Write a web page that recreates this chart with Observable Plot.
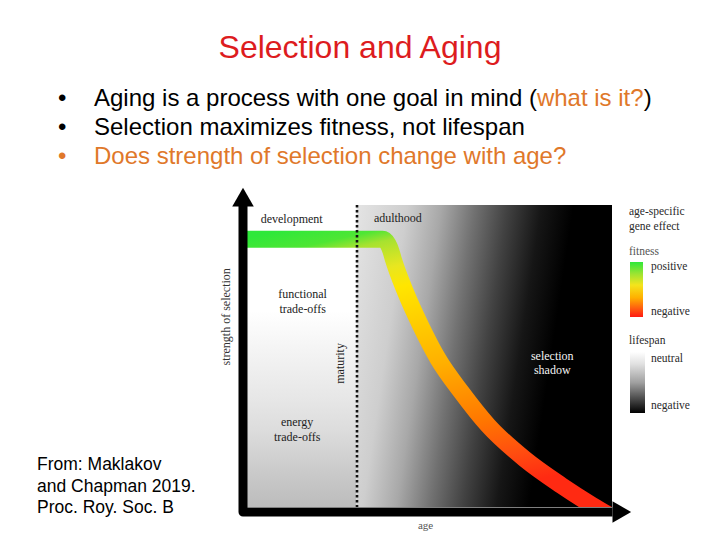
<!DOCTYPE html>
<html>
<head>
<meta charset="utf-8">
<script src="https://cdn.jsdelivr.net/npm/d3@7"></script>
<script src="https://cdn.jsdelivr.net/npm/@observablehq/plot@0.6"></script>
<style>
  body { margin: 0; width: 720px; height: 540px; position: relative; background: #fff; overflow: hidden; font-family: "Liberation Sans", Arial, sans-serif; }
  .abs { position: absolute; white-space: nowrap; }
  .leg { position: absolute; white-space: nowrap; font-family: "Liberation Serif", "DejaVu Serif", serif; font-size: 11.5px; line-height: 13px; color: #2a2a2a; }
</style>
</head>
<body>
<div class="abs" style="top:28px;left:0;width:720px;text-align:center;color:#dd1c1e;font-size:32px;line-height:38px;">Selection and Aging</div>
<div class="abs" style="top:83px;left:0;font-size:24px;line-height:29px;color:#000;">
  <div><span class="abs" style="left:58px;">•</span><span style="margin-left:94px;">Aging is a process with one goal in mind (<span style="color:#e0782a">what is it?</span>)</span></div>
  <div><span class="abs" style="left:58px;">•</span><span style="margin-left:94px;">Selection maximizes fitness, not lifespan</span></div>
  <div style="color:#e0782a"><span class="abs" style="left:58px;">•</span><span style="margin-left:94px;">Does strength of selection change with age?</span></div>
</div>
<div class="abs" style="top:454px;left:37px;font-size:17.5px;line-height:21.5px;color:#000;">From: Maklakov<br>and Chapman 2019.<br>Proc. Roy. Soc. B</div>

<div id="chart" style="position:absolute;left:222px;top:185px;"></div>

<div class="leg" style="left:629px;top:205px;">age-specific</div>
<div class="leg" style="left:629px;top:219.5px;">gene effect</div>
<div class="leg" style="left:629px;top:245px;color:#555;">fitness</div>
<div style="position:absolute;left:630px;top:262px;width:13px;height:55px;background:linear-gradient(to bottom,#2ee83a 0%,#9ee432 22%,#f4e41c 42%,#ffb000 65%,#ff5a10 85%,#ff1a12 100%);"></div>
<div class="leg" style="left:651px;top:260px;">positive</div>
<div class="leg" style="left:651px;top:305px;">negative</div>
<div class="leg" style="left:629px;top:333.5px;">lifespan</div>
<div style="position:absolute;left:630px;top:352px;width:15px;height:61px;background:linear-gradient(to bottom,#ffffff 0%,#e0e0e0 20%,#a0a0a0 50%,#404040 80%,#000000 100%);"></div>
<div class="leg" style="left:651px;top:352px;">neutral</div>
<div class="leg" style="left:651px;top:398.5px;">negative</div>

<script>
// ---- data (age 0–100, strength of selection 0–100) ----
const maturityAge = 30;
const bandAge      = [-2, 37.0, 38.5, 39.3, 39.9, 43.3, 47.4, 52.2, 58.6, 65.9, 75.9, 86.0, 94.5, 101.6];
const bandStrength = [88.8, 88.8, 87.2, 84.9, 82.4, 71.3, 60.3, 49.2, 38.2, 27.2, 16.1, 7.3, 0.7, -4.3];
const phaseNames   = ["development", "adulthood"];
const labelTexts   = ["development", "adulthood", "functional\ntrade-offs", "energy\ntrade-offs"];
const labelAge     = [12.1, 41.2, 15.1, 13.6];
const labelStrength= [95.7, 96.0, 68.5, 26.0];
const shadowText   = "selection\nshadow";
const shadowAge    = 83.5;
const shadowStrength = 47.9;
const maturityLabelStrength = 47.7;

const ageDomain = [0, 100];
const strengthDomain = [0, 100];

const band = bandAge.map((a, i) => ({age: a, s: bandStrength[i]}));
const labels = labelTexts.map((t, i) => ({text: t, age: labelAge[i], s: labelStrength[i]}));
const phases = [
  {name: phaseNames[0], start: ageDomain[0], end: maturityAge},
  {name: phaseNames[1], start: maturityAge, end: ageDomain[1]}
];
const axisPath = [
  {age: ageDomain[0], s: strengthDomain[1]},
  {age: ageDomain[0], s: strengthDomain[0]},
  {age: ageDomain[1], s: strengthDomain[0]}
];
const serif = "Liberation Serif, DejaVu Serif, serif";

const chart = Plot.plot({
  width: 498,
  height: 350,
  marginLeft: 25,
  marginRight: 108,
  marginTop: 20,
  marginBottom: 28,
  style: {background: "transparent", overflow: "visible"},
  x: {domain: ageDomain, axis: null},
  y: {domain: strengthDomain, axis: null},
  marks: [
    Plot.rect([phases[0]], {x1: "start", x2: "end", y1: strengthDomain[0], y2: strengthDomain[1], fill: "url(#devGrad)"}),
    Plot.rect([phases[1]], {x1: "start", x2: "end", y1: strengthDomain[0], y2: strengthDomain[1], fill: "url(#adultGrad)"}),
    Plot.line(band, {x: "age", y: "s", curve: "monotone-x", stroke: "url(#bandGrad)", strokeWidth: 17, strokeLinejoin: "round", clip: true}),
    Plot.ruleX([maturityAge], {stroke: "#111", strokeWidth: 2.6, strokeDasharray: "2.4,2.6"}),
    Plot.text(labels, {x: "age", y: "s", text: "text", fontFamily: serif, fontSize: 12, fill: "#222", lineHeight: 1.22}),
    Plot.text([{text: shadowText, age: shadowAge, s: shadowStrength}], {x: "age", y: "s", text: "text", fontFamily: serif, fontSize: 12, fill: "#f4f4f4", lineHeight: 1.15}),
    Plot.text([{text: "maturity", age: maturityAge, s: maturityLabelStrength}], {x: "age", y: "s", text: "text", rotate: -90, dx: -17, fontFamily: serif, fontSize: 12, fill: "#222"}),
    Plot.text(["strength of selection"], {frameAnchor: "left", rotate: -90, dx: -21, dy: 9, fontFamily: serif, fontSize: 12, fill: "#333"}),
    Plot.text(["age"], {frameAnchor: "bottom", dx: -4.5, dy: 21, fontFamily: serif, fontSize: 11, fill: "#555"}),
    Plot.line(axisPath, {x: "age", y: "s", dx: -4.5, dy: 4.5, stroke: "#000", strokeWidth: 9, strokeLinejoin: "round", strokeLinecap: "square"}),
    Plot.dot([axisPath[0]], {x: "age", y: "s", symbol: "triangle", r: 8, fill: "#000", stroke: "none", dx: -4.5, dy: -5.2}),
    Plot.dot([axisPath[2]], {x: "age", y: "s", symbol: "triangle", r: 8, fill: "#000", stroke: "none", rotate: 90, dx: 6.2, dy: 4.5})
  ]
});

// gradient paint servers referenced by the marks
const defs = d3.select(chart).insert("defs", ":first-child");
function grad(id, coords, stops) {
  const g = defs.append("linearGradient").attr("id", id)
    .attr("x1", coords[0]).attr("y1", coords[1]).attr("x2", coords[2]).attr("y2", coords[3]);
  for (const [o, c] of stops) g.append("stop").attr("offset", o).attr("stop-color", c);
}
grad("devGrad", [0, 0, 0, 1], [
  [0, "#ffffff"], [0.35, "#ffffff"], [0.48, "#f4f4f4"], [0.65, "#e6e6e6"],
  [0.75, "#dcdcdc"], [0.9, "#c8c8c8"], [1, "#bcbcbc"]
]);
grad("adultGrad", [0, 0, 1, 0.176], [
  [0, "#e4e4e4"], [0.194, "#cecece"], [0.323, "#a8a8a8"], [0.449, "#727272"],
  [0.574, "#424242"], [0.703, "#161616"], [0.825, "#000000"], [1, "#000000"]
]);
grad("bandGrad", [0, 0, 0.3, 1], [
  [0, "#2ee83a"], [0.07, "#4ee634"], [0.11, "#a6e230"], [0.2, "#e8e620"], [0.27, "#ffe600"],
  [0.39, "#ffcf00"], [0.55, "#ffb000"], [0.64, "#ff9800"], [0.77, "#ff7600"], [0.9, "#ff4c10"], [1, "#ff2a12"]
]);

document.getElementById("chart").appendChild(chart);
</script>
</body>
</html>
